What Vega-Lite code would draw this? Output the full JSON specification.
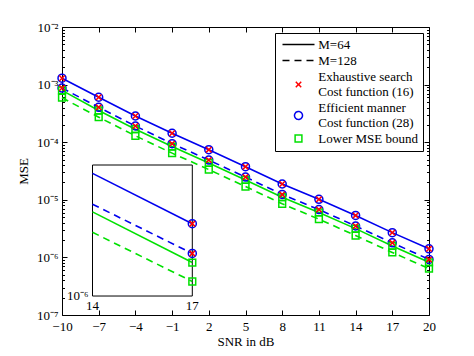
{
  "$schema": "https://vega.github.io/schema/vega-lite/v6.json",
  "autosize": {"type": "none"},
  "padding": {"left": 62, "top": 27, "right": 45, "bottom": 41},
  "width": 367,
  "height": 288,
  "background": "white",
  "config": {
    "view": {"stroke": "black", "strokeWidth": 1},
    "axis": {"domain": false, "grid": false, "labelFont": "Liberation Serif", "labelFontSize": 13, "labelColor": "black", "titleFont": "Liberation Serif", "titleFontSize": 13, "titleFontWeight": "normal", "titleColor": "black", "tickColor": "black", "labelFlush": false, "labelOverlap": false, "labelBound": false},
    "legend": {"orient": "top-right", "offset": 6, "padding": 5, "strokeColor": "black", "fillColor": "white", "labelFont": "Liberation Serif", "labelFontSize": 13, "labelColor": "black", "labelLimit": 300, "labelOffset": 13.3, "rowPadding": 2, "symbolSize": 121, "symbolStrokeWidth": 1.5, "symbolOffset": 12}
  },
  "datasets": {
    "mse": [
      {"snr": -10, "mse": 1.29e-3, "m": "m64", "entry": "eff"},
      {"snr": -7, "mse": 6.03e-4, "m": "m64", "entry": "eff"},
      {"snr": -4, "mse": 2.85e-4, "m": "m64", "entry": "eff"},
      {"snr": -1, "mse": 1.43e-4, "m": "m64", "entry": "eff"},
      {"snr": 2, "mse": 7.41e-5, "m": "m64", "entry": "eff"},
      {"snr": 5, "mse": 3.76e-5, "m": "m64", "entry": "eff"},
      {"snr": 8, "mse": 1.88e-5, "m": "m64", "entry": "eff"},
      {"snr": 11, "mse": 1.02e-5, "m": "m64", "entry": "eff"},
      {"snr": 14, "mse": 5.35e-6, "m": "m64", "entry": "eff"},
      {"snr": 17, "mse": 2.69e-6, "m": "m64", "entry": "eff"},
      {"snr": 20, "mse": 1.41e-6, "m": "m64", "entry": "eff"},
      {"snr": -10, "mse": 8.71e-4, "m": "m128", "entry": "eff"},
      {"snr": -7, "mse": 4.03e-4, "m": "m128", "entry": "eff"},
      {"snr": -4, "mse": 1.91e-4, "m": "m128", "entry": "eff"},
      {"snr": -1, "mse": 9.44e-5, "m": "m128", "entry": "eff"},
      {"snr": 2, "mse": 4.90e-5, "m": "m128", "entry": "eff"},
      {"snr": 5, "mse": 2.48e-5, "m": "m128", "entry": "eff"},
      {"snr": 8, "mse": 1.24e-5, "m": "m128", "entry": "eff"},
      {"snr": 11, "mse": 6.76e-6, "m": "m128", "entry": "eff"},
      {"snr": 14, "mse": 3.51e-6, "m": "m128", "entry": "eff"},
      {"snr": 17, "mse": 1.79e-6, "m": "m128", "entry": "eff"},
      {"snr": 20, "mse": 9.23e-7, "m": "m128", "entry": "eff"},
      {"snr": -10, "mse": 7.94e-4, "m": "m64", "entry": "lb"},
      {"snr": -7, "mse": 3.55e-4, "m": "m64", "entry": "lb"},
      {"snr": -4, "mse": 1.68e-4, "m": "m64", "entry": "lb"},
      {"snr": -1, "mse": 8.41e-5, "m": "m64", "entry": "lb"},
      {"snr": 2, "mse": 4.37e-5, "m": "m64", "entry": "lb"},
      {"snr": 5, "mse": 2.21e-5, "m": "m64", "entry": "lb"},
      {"snr": 8, "mse": 1.11e-5, "m": "m64", "entry": "lb"},
      {"snr": 11, "mse": 6.03e-6, "m": "m64", "entry": "lb"},
      {"snr": 14, "mse": 3.16e-6, "m": "m64", "entry": "lb"},
      {"snr": 17, "mse": 1.58e-6, "m": "m64", "entry": "lb"},
      {"snr": 20, "mse": 8.22e-7, "m": "m64", "entry": "lb"},
      {"snr": -10, "mse": 5.92e-4, "m": "m128", "entry": "lb"},
      {"snr": -7, "mse": 2.72e-4, "m": "m128", "entry": "lb"},
      {"snr": -4, "mse": 1.29e-4, "m": "m128", "entry": "lb"},
      {"snr": -1, "mse": 6.46e-5, "m": "m128", "entry": "lb"},
      {"snr": 2, "mse": 3.35e-5, "m": "m128", "entry": "lb"},
      {"snr": 5, "mse": 1.70e-5, "m": "m128", "entry": "lb"},
      {"snr": 8, "mse": 8.51e-6, "m": "m128", "entry": "lb"},
      {"snr": 11, "mse": 4.62e-6, "m": "m128", "entry": "lb"},
      {"snr": 14, "mse": 2.39e-6, "m": "m128", "entry": "lb"},
      {"snr": 17, "mse": 1.22e-6, "m": "m128", "entry": "lb"},
      {"snr": 20, "mse": 6.38e-7, "m": "m128", "entry": "lb"},
      {"snr": -10, "mse": 1.29e-3, "m": "m64", "entry": "ex"},
      {"snr": -7, "mse": 6.03e-4, "m": "m64", "entry": "ex"},
      {"snr": -4, "mse": 2.85e-4, "m": "m64", "entry": "ex"},
      {"snr": -1, "mse": 1.43e-4, "m": "m64", "entry": "ex"},
      {"snr": 2, "mse": 7.41e-5, "m": "m64", "entry": "ex"},
      {"snr": 5, "mse": 3.76e-5, "m": "m64", "entry": "ex"},
      {"snr": 8, "mse": 1.88e-5, "m": "m64", "entry": "ex"},
      {"snr": 11, "mse": 1.02e-5, "m": "m64", "entry": "ex"},
      {"snr": 14, "mse": 5.35e-6, "m": "m64", "entry": "ex"},
      {"snr": 17, "mse": 2.69e-6, "m": "m64", "entry": "ex"},
      {"snr": 20, "mse": 1.41e-6, "m": "m64", "entry": "ex"},
      {"snr": -10, "mse": 8.71e-4, "m": "m128", "entry": "ex"},
      {"snr": -7, "mse": 4.03e-4, "m": "m128", "entry": "ex"},
      {"snr": -4, "mse": 1.91e-4, "m": "m128", "entry": "ex"},
      {"snr": -1, "mse": 9.44e-5, "m": "m128", "entry": "ex"},
      {"snr": 2, "mse": 4.90e-5, "m": "m128", "entry": "ex"},
      {"snr": 5, "mse": 2.48e-5, "m": "m128", "entry": "ex"},
      {"snr": 8, "mse": 1.24e-5, "m": "m128", "entry": "ex"},
      {"snr": 11, "mse": 6.76e-6, "m": "m128", "entry": "ex"},
      {"snr": 14, "mse": 3.51e-6, "m": "m128", "entry": "ex"},
      {"snr": 17, "mse": 1.79e-6, "m": "m128", "entry": "ex"},
      {"snr": 20, "mse": 9.23e-7, "m": "m128", "entry": "ex"}
    ]
  },
  "data": {"name": "mse"},
  "layer": [
    {
      "resolve": {"axis": {"x": "independent", "y": "independent"}},
      "layer": [
        {
          "transform": [{"filter": "datum.entry == 'eff' && datum.m == 'm64'"}],
          "mark": {"type": "line", "color": "#0000ee", "strokeWidth": 1.6},
          "encoding": {
            "x": {"field": "snr", "type": "quantitative", "scale": {"domain": [-10, 20], "nice": false, "zero": false},
                  "axis": {"orient": "bottom", "values": [-10, -7, -4, -1, 2, 5, 8, 11, 14, 17, 20], "tickSize": -5, "labelPadding": 10.5, "title": "SNR in dB", "titlePadding": 2}},
            "y": {"field": "mse", "type": "quantitative", "scale": {"type": "log", "domain": [1e-7, 1e-2], "nice": false},
                  "axis": {"orient": "left", "values": [1e-7, 1e-6, 1e-5, 1e-4, 1e-3, 1e-2], "tickSize": -5, "labelPadding": 9,
                           "labelExpr": "'10⁻' + ['⁰','¹','²','³','⁴','⁵','⁶','⁷','⁸','⁹'][round(-log(datum.value)/LN10)]", "title": "MSE", "titlePadding": 6}}
          }
        },
        {
          "transform": [{"filter": "datum.entry == 'eff' && datum.m == 'm128'"}],
          "mark": {"type": "line", "color": "#0000ee", "strokeWidth": 1.6, "strokeDash": [7, 5]},
          "encoding": {
            "x": {"field": "snr", "type": "quantitative", "scale": {"domain": [-10, 20], "nice": false, "zero": false},
                  "axis": {"orient": "top", "values": [-10, -7, -4, -1, 2, 5, 8, 11, 14, 17, 20], "tickSize": -5, "labels": false, "title": null}},
            "y": {"field": "mse", "type": "quantitative", "scale": {"type": "log", "domain": [1e-7, 1e-2], "nice": false},
                  "axis": {"orient": "right", "values": [1e-7, 1e-6, 1e-5, 1e-4, 1e-3, 1e-2], "tickSize": -5, "labels": false, "title": null}}
          }
        },
        {
          "transform": [{"filter": "datum.entry == 'lb' && datum.m == 'm64'"}],
          "mark": {"type": "line", "color": "#00e000", "strokeWidth": 1.6},
          "encoding": {
            "x": {"field": "snr", "type": "quantitative", "scale": {"domain": [-10, 20], "nice": false, "zero": false}, "axis": null},
            "y": {"field": "mse", "type": "quantitative", "scale": {"type": "log", "domain": [1e-7, 1e-2], "nice": false}, "axis": null}
          }
        },
        {
          "transform": [{"filter": "datum.entry == 'lb' && datum.m == 'm128'"}],
          "mark": {"type": "line", "color": "#00e000", "strokeWidth": 1.6, "strokeDash": [7, 5]},
          "encoding": {
            "x": {"field": "snr", "type": "quantitative", "scale": {"domain": [-10, 20], "nice": false, "zero": false}, "axis": null},
            "y": {"field": "mse", "type": "quantitative", "scale": {"type": "log", "domain": [1e-7, 1e-2], "nice": false}, "axis": null}
          }
        },
        {
          "transform": [{"filter": "datum.entry == 'eff'"}],
          "mark": {"type": "point", "filled": false, "size": 121, "strokeWidth": 1.5, "opacity": 1, "color": "#0000ee",
                   "shape": "M0.727,0C0.727,0.402,0.402,0.727,0,0.727C-0.402,0.727,-0.727,0.402,-0.727,0C-0.727,-0.402,-0.402,-0.727,0,-0.727C0.402,-0.727,0.727,-0.402,0.727,0Z"},
          "encoding": {
            "x": {"field": "snr", "type": "quantitative", "scale": {"domain": [-10, 20], "nice": false, "zero": false}, "axis": null},
            "y": {"field": "mse", "type": "quantitative", "scale": {"type": "log", "domain": [1e-7, 1e-2], "nice": false},
                  "axis": {"orient": "left", "values": [2e-7, 3e-7, 4e-7, 5e-7, 6e-7, 7e-7, 8e-7, 9e-7, 2e-6, 3e-6, 4e-6, 5e-6, 6e-6, 7e-6, 8e-6, 9e-6, 2e-5, 3e-5, 4e-5, 5e-5, 6e-5, 7e-5, 8e-5, 9e-5, 2e-4, 3e-4, 4e-4, 5e-4, 6e-4, 7e-4, 8e-4, 9e-4, 2e-3, 3e-3, 4e-3, 5e-3, 6e-3, 7e-3, 8e-3, 9e-3], "tickSize": -2.5, "labels": false, "title": null}}
          }
        },
        {
          "transform": [{"filter": "datum.entry == 'lb'"}],
          "mark": {"type": "point", "filled": false, "size": 121, "strokeWidth": 1.5, "opacity": 1, "color": "#00e000",
                   "shape": "M-0.618,-0.618L0.618,-0.618L0.618,0.618L-0.618,0.618Z"},
          "encoding": {
            "x": {"field": "snr", "type": "quantitative", "scale": {"domain": [-10, 20], "nice": false, "zero": false}, "axis": null},
            "y": {"field": "mse", "type": "quantitative", "scale": {"type": "log", "domain": [1e-7, 1e-2], "nice": false},
                  "axis": {"orient": "right", "values": [2e-7, 3e-7, 4e-7, 5e-7, 6e-7, 7e-7, 8e-7, 9e-7, 2e-6, 3e-6, 4e-6, 5e-6, 6e-6, 7e-6, 8e-6, 9e-6, 2e-5, 3e-5, 4e-5, 5e-5, 6e-5, 7e-5, 8e-5, 9e-5, 2e-4, 3e-4, 4e-4, 5e-4, 6e-4, 7e-4, 8e-4, 9e-4, 2e-3, 3e-3, 4e-3, 5e-3, 6e-3, 7e-3, 8e-3, 9e-3], "tickSize": -2.5, "labels": false, "title": null}}
          }
        },
        {
          "transform": [{"filter": "datum.entry == 'ex'"}],
          "mark": {"type": "point", "filled": false, "size": 121, "strokeWidth": 1.5, "opacity": 1, "color": "#ff0000",
                   "shape": "M-0.49,-0.49L0.49,0.49M-0.49,0.49L0.49,-0.49"},
          "encoding": {
            "x": {"field": "snr", "type": "quantitative", "scale": {"domain": [-10, 20], "nice": false, "zero": false}, "axis": null},
            "y": {"field": "mse", "type": "quantitative", "scale": {"type": "log", "domain": [1e-7, 1e-2], "nice": false}, "axis": null}
          }
        },
        {
          "transform": [{"filter": "false"}],
          "mark": {"type": "point", "filled": false, "size": 121, "strokeWidth": 1.5, "opacity": 1},
          "encoding": {
            "x": {"field": "snr", "type": "quantitative", "scale": {"domain": [-10, 20], "nice": false, "zero": false}, "axis": null},
            "y": {"field": "mse", "type": "quantitative", "scale": {"type": "log", "domain": [1e-7, 1e-2], "nice": false}, "axis": null},
            "color": {"field": "entry", "type": "nominal",
                      "scale": {"domain": ["m64", "m128", "ex", "eff", "lb"], "range": ["#000000", "#000000", "#ff0000", "#0000ee", "#00e000"]},
                      "legend": {"title": null, "labelExpr": "datum.value == 'm64' ? 'M=64' : datum.value == 'm128' ? 'M=128' : datum.value == 'ex' ? ['Exhaustive search', 'Cost function (16)'] : datum.value == 'eff' ? ['Efficient manner', 'Cost function (28)'] : 'Lower MSE bound'"}},
            "shape": {"field": "entry", "type": "nominal",
                      "scale": {"domain": ["m64", "m128", "ex", "eff", "lb"], "range": ["M-2.91,0L2.91,0", "M-2.91,0L2.91,0", "M-0.49,0.965L0.49,1.945M-0.49,1.945L0.49,0.965", "M0.727,1.4545C0.727,1.8565,0.402,2.1815,0,2.1815C-0.402,2.1815,-0.727,1.8565,-0.727,1.4545C-0.727,1.0525,-0.402,0.7275,0,0.7275C0.402,0.7275,0.727,1.0525,0.727,1.4545Z", "M-0.618,-0.618L0.618,-0.618L0.618,0.618L-0.618,0.618Z"]},
                      "legend": {"title": null, "labelExpr": "datum.value == 'm64' ? 'M=64' : datum.value == 'm128' ? 'M=128' : datum.value == 'ex' ? ['Exhaustive search', 'Cost function (16)'] : datum.value == 'eff' ? ['Efficient manner', 'Cost function (28)'] : 'Lower MSE bound'"}},
            "strokeDash": {"field": "entry", "type": "nominal",
                           "scale": {"domain": ["m64", "m128", "ex", "eff", "lb"], "range": [[1, 0], [7, 5], [1, 0], [1, 0], [1, 0]]},
                           "legend": {"title": null, "labelExpr": "datum.value == 'm64' ? 'M=64' : datum.value == 'm128' ? 'M=128' : datum.value == 'ex' ? ['Exhaustive search', 'Cost function (16)'] : datum.value == 'eff' ? ['Efficient manner', 'Cost function (28)'] : 'Lower MSE bound'"}}
          }
        }
      ]
    },
    {
      "layer": [
        {
          "data": {"values": [{}]},
          "mark": {"type": "rect", "fill": "white", "stroke": "black", "strokeWidth": 1},
          "encoding": {
            "x": {"datum": 14, "type": "quantitative", "scale": {"domain": [13.0832, 24.1145], "nice": false, "zero": false}, "axis": null},
            "x2": {"datum": 17},
            "y": {"datum": 1e-6, "type": "quantitative", "scale": {"type": "log", "domain": [7.7135e-7, 3.9613e-5], "nice": false}, "axis": null},
            "y2": {"datum": 6e-6}
          }
        },
        {
          "data": {"values": [{"tick": 14}, {"tick": 17}]},
          "mark": {"type": "text", "font": "Liberation Serif", "fontSize": 13, "color": "black", "baseline": "top", "dy": 4},
          "encoding": {
            "x": {"field": "tick", "type": "quantitative", "scale": {"domain": [13.0832, 24.1145], "nice": false, "zero": false}, "axis": null},
            "y": {"datum": 1e-6, "type": "quantitative", "scale": {"type": "log", "domain": [7.7135e-7, 3.9613e-5], "nice": false}, "axis": null},
            "text": {"field": "tick", "type": "quantitative"}
          }
        },
        {
          "data": {"values": [{"tick": 1e-6}]},
          "mark": {"type": "text", "font": "Liberation Serif", "fontSize": 13, "color": "black", "align": "right", "baseline": "middle", "dx": -4},
          "encoding": {
            "x": {"datum": 14, "type": "quantitative", "scale": {"domain": [13.0832, 24.1145], "nice": false, "zero": false}, "axis": null},
            "y": {"field": "tick", "type": "quantitative", "scale": {"type": "log", "domain": [7.7135e-7, 3.9613e-5], "nice": false}, "axis": null},
            "text": {"value": "10⁻⁶"}
          }
        },
        {
          "transform": [{"filter": "datum.entry == 'eff' && datum.m == 'm64' && datum.snr >= 14 && datum.snr <= 17"}],
          "mark": {"type": "line", "color": "#0000ee", "strokeWidth": 1.6},
          "encoding": {
            "x": {"field": "snr", "type": "quantitative", "scale": {"domain": [13.0832, 24.1145], "nice": false, "zero": false}, "axis": null},
            "y": {"field": "mse", "type": "quantitative", "scale": {"type": "log", "domain": [7.7135e-7, 3.9613e-5], "nice": false}, "axis": null}
          }
        },
        {
          "transform": [{"filter": "datum.entry == 'eff' && datum.m == 'm128' && datum.snr >= 14 && datum.snr <= 17"}],
          "mark": {"type": "line", "color": "#0000ee", "strokeWidth": 1.6, "strokeDash": [7, 5]},
          "encoding": {
            "x": {"field": "snr", "type": "quantitative", "scale": {"domain": [13.0832, 24.1145], "nice": false, "zero": false}, "axis": null},
            "y": {"field": "mse", "type": "quantitative", "scale": {"type": "log", "domain": [7.7135e-7, 3.9613e-5], "nice": false}, "axis": null}
          }
        },
        {
          "transform": [{"filter": "datum.entry == 'lb' && datum.m == 'm64' && datum.snr >= 14 && datum.snr <= 17"}],
          "mark": {"type": "line", "color": "#00e000", "strokeWidth": 1.6},
          "encoding": {
            "x": {"field": "snr", "type": "quantitative", "scale": {"domain": [13.0832, 24.1145], "nice": false, "zero": false}, "axis": null},
            "y": {"field": "mse", "type": "quantitative", "scale": {"type": "log", "domain": [7.7135e-7, 3.9613e-5], "nice": false}, "axis": null}
          }
        },
        {
          "transform": [{"filter": "datum.entry == 'lb' && datum.m == 'm128' && datum.snr >= 14 && datum.snr <= 17"}],
          "mark": {"type": "line", "color": "#00e000", "strokeWidth": 1.6, "strokeDash": [7, 5]},
          "encoding": {
            "x": {"field": "snr", "type": "quantitative", "scale": {"domain": [13.0832, 24.1145], "nice": false, "zero": false}, "axis": null},
            "y": {"field": "mse", "type": "quantitative", "scale": {"type": "log", "domain": [7.7135e-7, 3.9613e-5], "nice": false}, "axis": null}
          }
        },
        {
          "transform": [{"filter": "datum.entry == 'eff' && datum.snr == 17"}],
          "mark": {"type": "point", "filled": false, "size": 121, "strokeWidth": 1.5, "opacity": 1, "color": "#0000ee",
                   "shape": "M0.727,0C0.727,0.402,0.402,0.727,0,0.727C-0.402,0.727,-0.727,0.402,-0.727,0C-0.727,-0.402,-0.402,-0.727,0,-0.727C0.402,-0.727,0.727,-0.402,0.727,0Z"},
          "encoding": {
            "x": {"field": "snr", "type": "quantitative", "scale": {"domain": [13.0832, 24.1145], "nice": false, "zero": false}, "axis": null},
            "y": {"field": "mse", "type": "quantitative", "scale": {"type": "log", "domain": [7.7135e-7, 3.9613e-5], "nice": false}, "axis": null}
          }
        },
        {
          "transform": [{"filter": "datum.entry == 'ex' && datum.snr == 17"}],
          "mark": {"type": "point", "filled": false, "size": 121, "strokeWidth": 1.5, "opacity": 1, "color": "#ff0000",
                   "shape": "M-0.49,-0.49L0.49,0.49M-0.49,0.49L0.49,-0.49"},
          "encoding": {
            "x": {"field": "snr", "type": "quantitative", "scale": {"domain": [13.0832, 24.1145], "nice": false, "zero": false}, "axis": null},
            "y": {"field": "mse", "type": "quantitative", "scale": {"type": "log", "domain": [7.7135e-7, 3.9613e-5], "nice": false}, "axis": null}
          }
        },
        {
          "transform": [{"filter": "datum.entry == 'lb' && datum.snr == 17"}],
          "mark": {"type": "point", "filled": false, "size": 121, "strokeWidth": 1.5, "opacity": 1, "color": "#00e000",
                   "shape": "M-0.618,-0.618L0.618,-0.618L0.618,0.618L-0.618,0.618Z"},
          "encoding": {
            "x": {"field": "snr", "type": "quantitative", "scale": {"domain": [13.0832, 24.1145], "nice": false, "zero": false}, "axis": null},
            "y": {"field": "mse", "type": "quantitative", "scale": {"type": "log", "domain": [7.7135e-7, 3.9613e-5], "nice": false}, "axis": null}
          }
        }
      ]
    }
  ],
  "resolve": {"scale": {"x": "independent", "y": "independent"}}
}
